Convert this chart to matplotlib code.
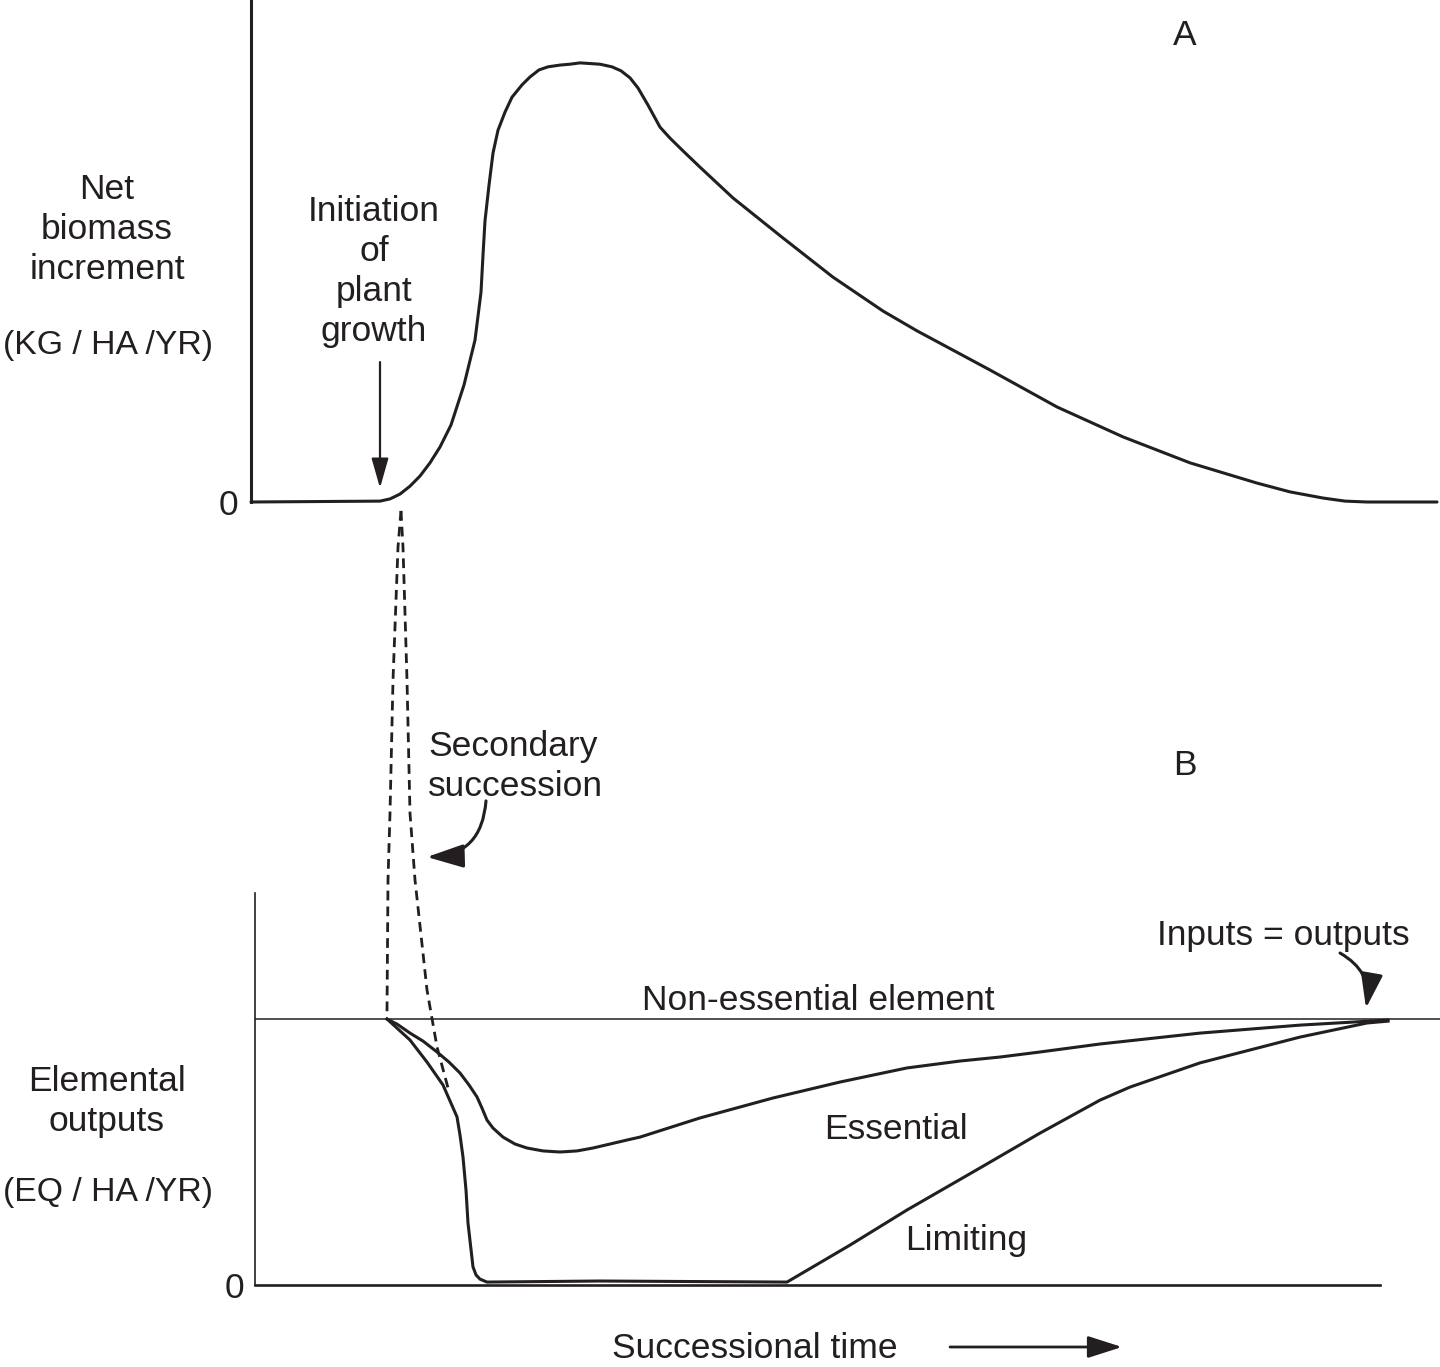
import matplotlib
matplotlib.use("Agg")
import matplotlib.pyplot as plt

plt.rcParams['font.family'] = ['Liberation Sans', 'DejaVu Sans']
INK = '#231f20'

# ---------------- data (time units, biomass units, output units) ----------------
# Panel A: net biomass increment vs successional time
biomass_t = [0, 12.9, 13.9, 14.9, 15.9, 16.9, 17.9, 18.9, 20.0, 21.3, 22.4, 23.0,
             23.2, 23.4, 23.8, 24.2, 24.7, 25.4, 26.1, 27.1, 27.9, 28.8, 29.7, 30.9,
             31.9, 32.9, 34.9, 36.1, 37.0, 37.9, 38.7, 39.7, 40.9, 41.9, 43.2, 44.9,
             48.2, 53.2, 58.2, 63.2, 66.6, 73.9, 80.6, 87.2, 93.9, 100.6, 103.9,
             107.2, 109.4, 111.6, 118.6]
biomass_v = [0, 0.2, 0.7, 1.8, 3.6, 5.9, 8.9, 12.5, 17.5, 26.6, 36.8, 47.7,
             56.1, 63.9, 72.0, 79.3, 84.5, 88.6, 92.0, 94.8, 96.6, 98.2, 98.9, 99.3,
             99.5, 99.8, 99.5, 98.9, 98.0, 96.4, 94.1, 90.2, 85.2, 82.7, 79.8, 76.1,
             69.1, 60.0, 51.1, 43.4, 38.9, 30.0, 21.6, 14.8, 8.9, 4.3, 2.3,
             0.9, 0.2, 0.0, 0.0]

# Panel B: elemental outputs
nonessential_level = 100
essential_t = [13.6, 14.6, 15.9, 17.2, 18.6, 19.8, 20.9, 21.8, 22.6, 23.1, 23.6, 24.2,
               25.2, 26.4, 27.6, 29.2, 30.9, 32.6, 34.2, 37.6, 38.9, 44.9, 52.2, 58.9,
               65.6, 70.9, 74.9, 78.9, 84.9, 94.9, 104.9, 113.7]
essential_v = [100, 98.1, 94.7, 91.7, 87.6, 83.8, 79.7, 75.2, 70.7, 66.5, 62.0, 59.0,
               55.6, 53.0, 51.5, 50.4, 50.0, 50.4, 51.5, 54.5, 55.6, 62.8, 70.3, 76.3,
               81.6, 84.2, 85.7, 87.6, 90.6, 94.7, 97.7, 99.6]
limiting_t = [13.6, 15.9, 17.6, 19.2, 20.6, 20.9, 21.2, 21.5, 21.7, 22.2, 22.5, 22.9,
              23.6, 34.9, 53.6, 59.9, 65.6, 72.9, 78.9, 84.9, 87.9, 94.9, 104.9,
              111.6, 113.7]
limiting_v = [100, 92.1, 83.8, 75.2, 63.2, 56.4, 48.1, 35.7, 23.3, 6.8, 3.8, 2.2,
              1.1, 1.5, 1.1, 15.0, 28.2, 44.0, 57.1, 69.5, 74.4, 83.5, 93.2,
              98.5, 99.2]

# Dashed "secondary succession" connectors (in panel-B units, extending upward)
dash_left_t = [15.0, 14.7, 14.2, 13.9, 13.7, 13.6]
dash_left_v = [291.0, 277.4, 227.4, 177.4, 152.3, 102.6]
dash_right_t = [15.0, 15.2, 15.6, 15.9, 16.4, 17.6, 18.6, 19.7]
dash_right_v = [291.0, 277.4, 227.4, 177.4, 152.3, 110.9, 89.5, 74.1]

W, H = 1440, 1367
fig = plt.figure(figsize=(W / 100, H / 100), dpi=100)


def fx(x):
    return x / W


def fy(y):
    return 1 - y / H


FS = 25.5
HEAD = '-|>,head_length=0.75,head_width=0.24'

# ---------------- Panel A ----------------
axA = fig.add_axes([fx(251), fy(520), (W - 251) / W, 520 / H])
axA.set_xlim(0, 118.9)
axA.set_ylim(-18 / 4.4, 502 / 4.4)
axA.plot(biomass_t, biomass_v, color=INK, lw=2.2, solid_joinstyle='round',
         solid_capstyle='round', clip_on=False)
for s in ['top', 'right', 'bottom']:
    axA.spines[s].set_visible(False)
axA.spines['left'].set_bounds(0, 502 / 4.4)
axA.spines['left'].set_linewidth(2.2)
axA.spines['left'].set_color(INK)
axA.set_xticks([])
axA.set_yticks([0])
axA.set_yticklabels(['0'], fontsize=FS, color=INK)
axA.tick_params(axis='y', length=0, pad=9)
axA.patch.set_visible(False)

axA.annotate('', xy=(12.9, 3.2), xytext=(12.9, 31.8),
             arrowprops=dict(arrowstyle='-|>,head_length=0.7,head_width=0.2',
                             lw=1.6, color=INK, mutation_scale=26,
                             shrinkA=0, shrinkB=0))

# ---------------- Panel B ----------------
axB = fig.add_axes([fx(255), fy(1300), (W - 255) / W, 420 / H])
axB.set_xlim(0.4, 118.9)
axB.set_ylim(-15 / 2.66, 405 / 2.66)
axB.axhline(nonessential_level, color=INK, lw=1.1)
axB.plot(essential_t, essential_v, color=INK, lw=2.2, solid_joinstyle='round')
axB.plot(limiting_t, limiting_v, color=INK, lw=2.2, solid_joinstyle='round')
axB.plot(dash_left_t, dash_left_v, color=INK, lw=2.0, ls=(0, (3.5, 2.2)), clip_on=False)
axB.plot(dash_right_t, dash_right_v, color=INK, lw=2.0, ls=(0, (3.5, 2.2)), clip_on=False)
for s in ['top', 'right']:
    axB.spines[s].set_visible(False)
axB.spines['bottom'].set_position(('data', 0))
axB.spines['bottom'].set_bounds(0.4, 112.9)
axB.spines['bottom'].set_linewidth(1.9)
axB.spines['left'].set_bounds(0, 392 / 2.66)
axB.spines['left'].set_linewidth(1.2)
for s in ['bottom', 'left']:
    axB.spines[s].set_color(INK)
axB.set_xticks([])
axB.set_yticks([0])
axB.set_yticklabels(['0'], fontsize=FS, color=INK)
axB.tick_params(axis='y', length=0, pad=8)
axB.patch.set_visible(False)

axB.annotate('', xy=(17.6, 160.9), xytext=(23.5, 182.0), annotation_clip=False,
             arrowprops=dict(arrowstyle=HEAD, lw=2.2, color=INK, mutation_scale=30,
                             shrinkA=0, shrinkB=0,
                             connectionstyle='arc3,rad=-0.45'))
axB.annotate('', xy=(111.5, 104.1), xytext=(108.9, 124.8), annotation_clip=False,
             arrowprops=dict(arrowstyle=HEAD, lw=2.2, color=INK, mutation_scale=28,
                             shrinkA=0, shrinkB=0,
                             connectionstyle='arc3,rad=-0.35'))

# Successional time arrow
fig.add_artist(matplotlib.patches.FancyArrowPatch(
    (fx(950), fy(1347)), (fx(1122), fy(1347)), transform=fig.transFigure,
    arrowstyle=HEAD, lw=2.0, color=INK,
    mutation_scale=28, shrinkA=0, shrinkB=0))

# ---------------- texts ----------------
def t(x, y, s, ha='center', fs=FS):
    fig.text(fx(x), fy(y), s, ha=ha, va='baseline', fontsize=fs, color=INK)


t(107, 199, 'Net')
t(107, 239, 'biomass')
t(107, 279, 'increment')
t(108, 354, '(KG / HA /YR)', fs=24.3)
t(1185, 45, 'A')
t(374, 221, 'Initiation')
t(374, 261, 'of')
t(374, 301, 'plant')
t(374, 341, 'growth')
t(428, 756, 'Secondary', ha='left')
t(428, 796, 'succession', ha='left')
t(1185, 775, 'B')
t(1283, 945, 'Inputs = outputs')
t(818, 1010, 'Non-essential element')
t(896, 1139, 'Essential')
t(966, 1250, 'Limiting')
t(107, 1091, 'Elemental')
t(107, 1131, 'outputs')
t(108, 1201, '(EQ / HA /YR)', fs=24.3)
t(755, 1358, 'Successional time')

fig.savefig('out.png', dpi=100, facecolor='white')
